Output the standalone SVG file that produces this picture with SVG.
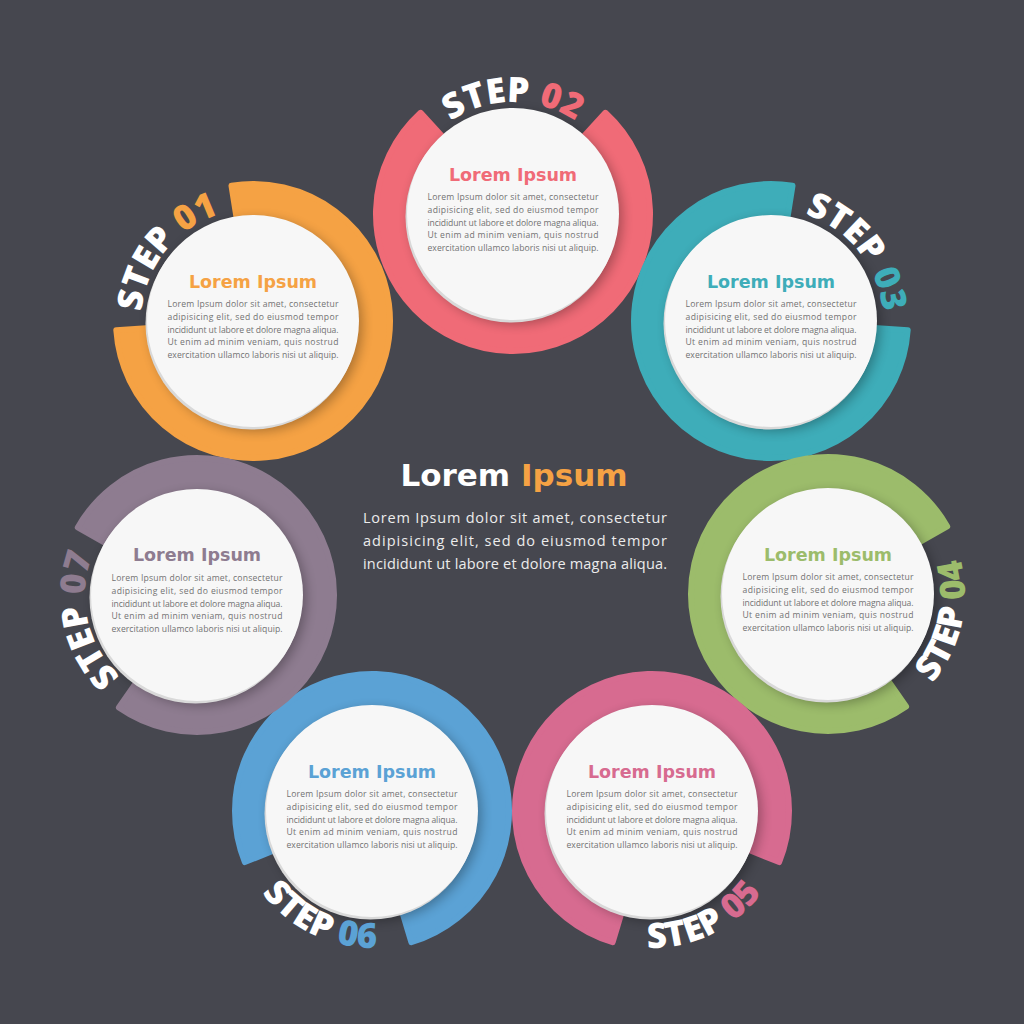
<svg xmlns="http://www.w3.org/2000/svg" xmlns:xlink="http://www.w3.org/1999/xlink" width="1024" height="1024" viewBox="0 0 1024 1024">
<style>
.ring{stroke-width:6;stroke-linejoin:round}
.shadow{fill:#000;opacity:.3}
.rim{fill:#d9d9d9}
.disc{fill:#f7f7f7}
.step{font-family:"Open Sans","DejaVu Sans",sans-serif;font-weight:800;font-size:35px;fill:#ffffff;text-anchor:middle}
.title{font-family:"DejaVu Sans","Verdana",sans-serif;font-weight:700;font-size:17.5px;text-anchor:middle}
.body{font-family:"Open Sans","Liberation Sans",sans-serif;font-size:8.6px;fill:#727272}
.ctitle{font-family:"DejaVu Sans","Verdana",sans-serif;font-weight:700;font-size:31px;text-anchor:middle}
.cbody{font-family:"Open Sans","Liberation Sans",sans-serif;font-size:14.5px;fill:#ececec}
</style>
<defs>
<filter id="blur" x="-30%" y="-30%" width="160%" height="160%"><feGaussianBlur stdDeviation="6"/></filter>
<path id="ring" class="ring" d="M 92.38 -101.17 A 137 137 0 1 1 -92.38 -101.17 L -64.73 -70.90 A 96 96 0 1 0 64.73 -70.90 Z"/>
<path id="arcTop" d="M -101.5 -47.33 A 112 112 0 0 1 101.5 -47.33"/>
<path id="arcBot" d="M -124.16 57.9 A 137 137 0 0 0 124.16 57.9"/>
</defs>
<rect width="1024" height="1024" fill="#46474f"/>

<g id="center-text">
<text x="514" y="486" class="ctitle"><tspan fill="#ffffff">Lorem </tspan><tspan fill="#f5a244">Ipsum</tspan></text>
<text x="363" y="523" class="cbody" textLength="304" lengthAdjust="spacing">Lorem Ipsum dolor sit amet, consectetur</text>
<text x="363" y="546" class="cbody" textLength="304" lengthAdjust="spacing">adipisicing elit, sed do eiusmod tempor</text>
<text x="363" y="569" class="cbody" textLength="304" lengthAdjust="spacing">incididunt ut labore et dolore magna aliqua.</text>
</g>

<g id="connectors"></g>

<g id="node-01">
<use href="#ring" transform="translate(253 321) rotate(-51.43)" fill="#f5a244" stroke="#f5a244"/>
<circle cx="256" cy="325" r="106" class="shadow" filter="url(#blur)"/>
<circle cx="251.5" cy="323.5" r="106" class="rim"/>
<circle cx="253" cy="321" r="106" class="disc"/>
<text class="step" transform="translate(253 321) rotate(-51.43)"><textPath href="#arcTop" startOffset="50%">STEP <tspan fill="#f5a244">01</tspan></textPath></text>
<text x="253" y="288" class="title" fill="#f5a244">Lorem Ipsum</text>
<text x="167.5" y="307" class="body" textLength="171" lengthAdjust="spacing">Lorem Ipsum dolor sit amet, consectetur</text>
<text x="167.5" y="319.75" class="body" textLength="171" lengthAdjust="spacing">adipisicing elit, sed do eiusmod tempor</text>
<text x="167.5" y="332.5" class="body" textLength="171" lengthAdjust="spacing">incididunt ut labore et dolore magna aliqua.</text>
<text x="167.5" y="345.25" class="body" textLength="171" lengthAdjust="spacing">Ut enim ad minim veniam, quis nostrud</text>
<text x="167.5" y="358" class="body" textLength="171" lengthAdjust="spacing">exercitation ullamco laboris nisi ut aliquip.</text>
</g>

<g id="node-02">
<use href="#ring" transform="translate(513 214)" fill="#f06b77" stroke="#f06b77"/>
<circle cx="516" cy="218" r="106" class="shadow" filter="url(#blur)"/>
<circle cx="511.5" cy="216.5" r="106" class="rim"/>
<circle cx="513" cy="214" r="106" class="disc"/>
<text class="step" transform="translate(513 214)"><textPath href="#arcTop" startOffset="50%">STEP <tspan fill="#f06b77">02</tspan></textPath></text>
<text x="513" y="181" class="title" fill="#f06b77">Lorem Ipsum</text>
<text x="427.5" y="200" class="body" textLength="171" lengthAdjust="spacing">Lorem Ipsum dolor sit amet, consectetur</text>
<text x="427.5" y="212.75" class="body" textLength="171" lengthAdjust="spacing">adipisicing elit, sed do eiusmod tempor</text>
<text x="427.5" y="225.5" class="body" textLength="171" lengthAdjust="spacing">incididunt ut labore et dolore magna aliqua.</text>
<text x="427.5" y="238.25" class="body" textLength="171" lengthAdjust="spacing">Ut enim ad minim veniam, quis nostrud</text>
<text x="427.5" y="251" class="body" textLength="171" lengthAdjust="spacing">exercitation ullamco laboris nisi ut aliquip.</text>
</g>

<g id="node-03">
<use href="#ring" transform="translate(771 321) rotate(51.43)" fill="#3eadb9" stroke="#3eadb9"/>
<circle cx="774" cy="325" r="106" class="shadow" filter="url(#blur)"/>
<circle cx="769.5" cy="323.5" r="106" class="rim"/>
<circle cx="771" cy="321" r="106" class="disc"/>
<text class="step" transform="translate(771 321) rotate(51.43)"><textPath href="#arcTop" startOffset="50%">STEP <tspan fill="#3eadb9">03</tspan></textPath></text>
<text x="771" y="288" class="title" fill="#3eadb9">Lorem Ipsum</text>
<text x="685.5" y="307" class="body" textLength="171" lengthAdjust="spacing">Lorem Ipsum dolor sit amet, consectetur</text>
<text x="685.5" y="319.75" class="body" textLength="171" lengthAdjust="spacing">adipisicing elit, sed do eiusmod tempor</text>
<text x="685.5" y="332.5" class="body" textLength="171" lengthAdjust="spacing">incididunt ut labore et dolore magna aliqua.</text>
<text x="685.5" y="345.25" class="body" textLength="171" lengthAdjust="spacing">Ut enim ad minim veniam, quis nostrud</text>
<text x="685.5" y="358" class="body" textLength="171" lengthAdjust="spacing">exercitation ullamco laboris nisi ut aliquip.</text>
</g>

<g id="node-04">
<use href="#ring" transform="translate(828 594) rotate(102.86)" fill="#9cbc6b" stroke="#9cbc6b"/>
<circle cx="831" cy="598" r="106" class="shadow" filter="url(#blur)"/>
<circle cx="826.5" cy="596.5" r="106" class="rim"/>
<circle cx="828" cy="594" r="106" class="disc"/>
<text class="step" transform="translate(828 594) rotate(-77.14)"><textPath href="#arcBot" startOffset="50%">STEP <tspan fill="#9cbc6b">04</tspan></textPath></text>
<text x="828" y="561" class="title" fill="#9cbc6b">Lorem Ipsum</text>
<text x="742.5" y="580" class="body" textLength="171" lengthAdjust="spacing">Lorem Ipsum dolor sit amet, consectetur</text>
<text x="742.5" y="592.75" class="body" textLength="171" lengthAdjust="spacing">adipisicing elit, sed do eiusmod tempor</text>
<text x="742.5" y="605.5" class="body" textLength="171" lengthAdjust="spacing">incididunt ut labore et dolore magna aliqua.</text>
<text x="742.5" y="618.25" class="body" textLength="171" lengthAdjust="spacing">Ut enim ad minim veniam, quis nostrud</text>
<text x="742.5" y="631" class="body" textLength="171" lengthAdjust="spacing">exercitation ullamco laboris nisi ut aliquip.</text>
</g>

<g id="node-05">
<use href="#ring" transform="translate(652 811) rotate(154.29)" fill="#d76b90" stroke="#d76b90"/>
<circle cx="655" cy="815" r="106" class="shadow" filter="url(#blur)"/>
<circle cx="650.5" cy="813.5" r="106" class="rim"/>
<circle cx="652" cy="811" r="106" class="disc"/>
<text class="step" transform="translate(652 811) rotate(-25.71)"><textPath href="#arcBot" startOffset="50%">STEP <tspan fill="#d76b90">05</tspan></textPath></text>
<text x="652" y="778" class="title" fill="#d76b90">Lorem Ipsum</text>
<text x="566.5" y="797" class="body" textLength="171" lengthAdjust="spacing">Lorem Ipsum dolor sit amet, consectetur</text>
<text x="566.5" y="809.75" class="body" textLength="171" lengthAdjust="spacing">adipisicing elit, sed do eiusmod tempor</text>
<text x="566.5" y="822.5" class="body" textLength="171" lengthAdjust="spacing">incididunt ut labore et dolore magna aliqua.</text>
<text x="566.5" y="835.25" class="body" textLength="171" lengthAdjust="spacing">Ut enim ad minim veniam, quis nostrud</text>
<text x="566.5" y="848" class="body" textLength="171" lengthAdjust="spacing">exercitation ullamco laboris nisi ut aliquip.</text>
</g>

<g id="node-06">
<use href="#ring" transform="translate(372 811) rotate(205.71)" fill="#5ba2d5" stroke="#5ba2d5"/>
<circle cx="375" cy="815" r="106" class="shadow" filter="url(#blur)"/>
<circle cx="370.5" cy="813.5" r="106" class="rim"/>
<circle cx="372" cy="811" r="106" class="disc"/>
<text class="step" transform="translate(372 811) rotate(25.71)"><textPath href="#arcBot" startOffset="50%">STEP <tspan fill="#5ba2d5">06</tspan></textPath></text>
<text x="372" y="778" class="title" fill="#5ba2d5">Lorem Ipsum</text>
<text x="286.5" y="797" class="body" textLength="171" lengthAdjust="spacing">Lorem Ipsum dolor sit amet, consectetur</text>
<text x="286.5" y="809.75" class="body" textLength="171" lengthAdjust="spacing">adipisicing elit, sed do eiusmod tempor</text>
<text x="286.5" y="822.5" class="body" textLength="171" lengthAdjust="spacing">incididunt ut labore et dolore magna aliqua.</text>
<text x="286.5" y="835.25" class="body" textLength="171" lengthAdjust="spacing">Ut enim ad minim veniam, quis nostrud</text>
<text x="286.5" y="848" class="body" textLength="171" lengthAdjust="spacing">exercitation ullamco laboris nisi ut aliquip.</text>
</g>

<g id="node-07">
<use href="#ring" transform="translate(197 595) rotate(-102.86)" fill="#8e7c90" stroke="#8e7c90"/>
<circle cx="200" cy="599" r="106" class="shadow" filter="url(#blur)"/>
<circle cx="195.5" cy="597.5" r="106" class="rim"/>
<circle cx="197" cy="595" r="106" class="disc"/>
<text class="step" transform="translate(197 595) rotate(-102.86)"><textPath href="#arcTop" startOffset="50%">STEP <tspan fill="#8e7c90">07</tspan></textPath></text>
<text x="197" y="561" class="title" fill="#8e7c90">Lorem Ipsum</text>
<text x="111.5" y="581" class="body" textLength="171" lengthAdjust="spacing">Lorem Ipsum dolor sit amet, consectetur</text>
<text x="111.5" y="593.75" class="body" textLength="171" lengthAdjust="spacing">adipisicing elit, sed do eiusmod tempor</text>
<text x="111.5" y="606.5" class="body" textLength="171" lengthAdjust="spacing">incididunt ut labore et dolore magna aliqua.</text>
<text x="111.5" y="619.25" class="body" textLength="171" lengthAdjust="spacing">Ut enim ad minim veniam, quis nostrud</text>
<text x="111.5" y="632" class="body" textLength="171" lengthAdjust="spacing">exercitation ullamco laboris nisi ut aliquip.</text>
</g>
</svg>
